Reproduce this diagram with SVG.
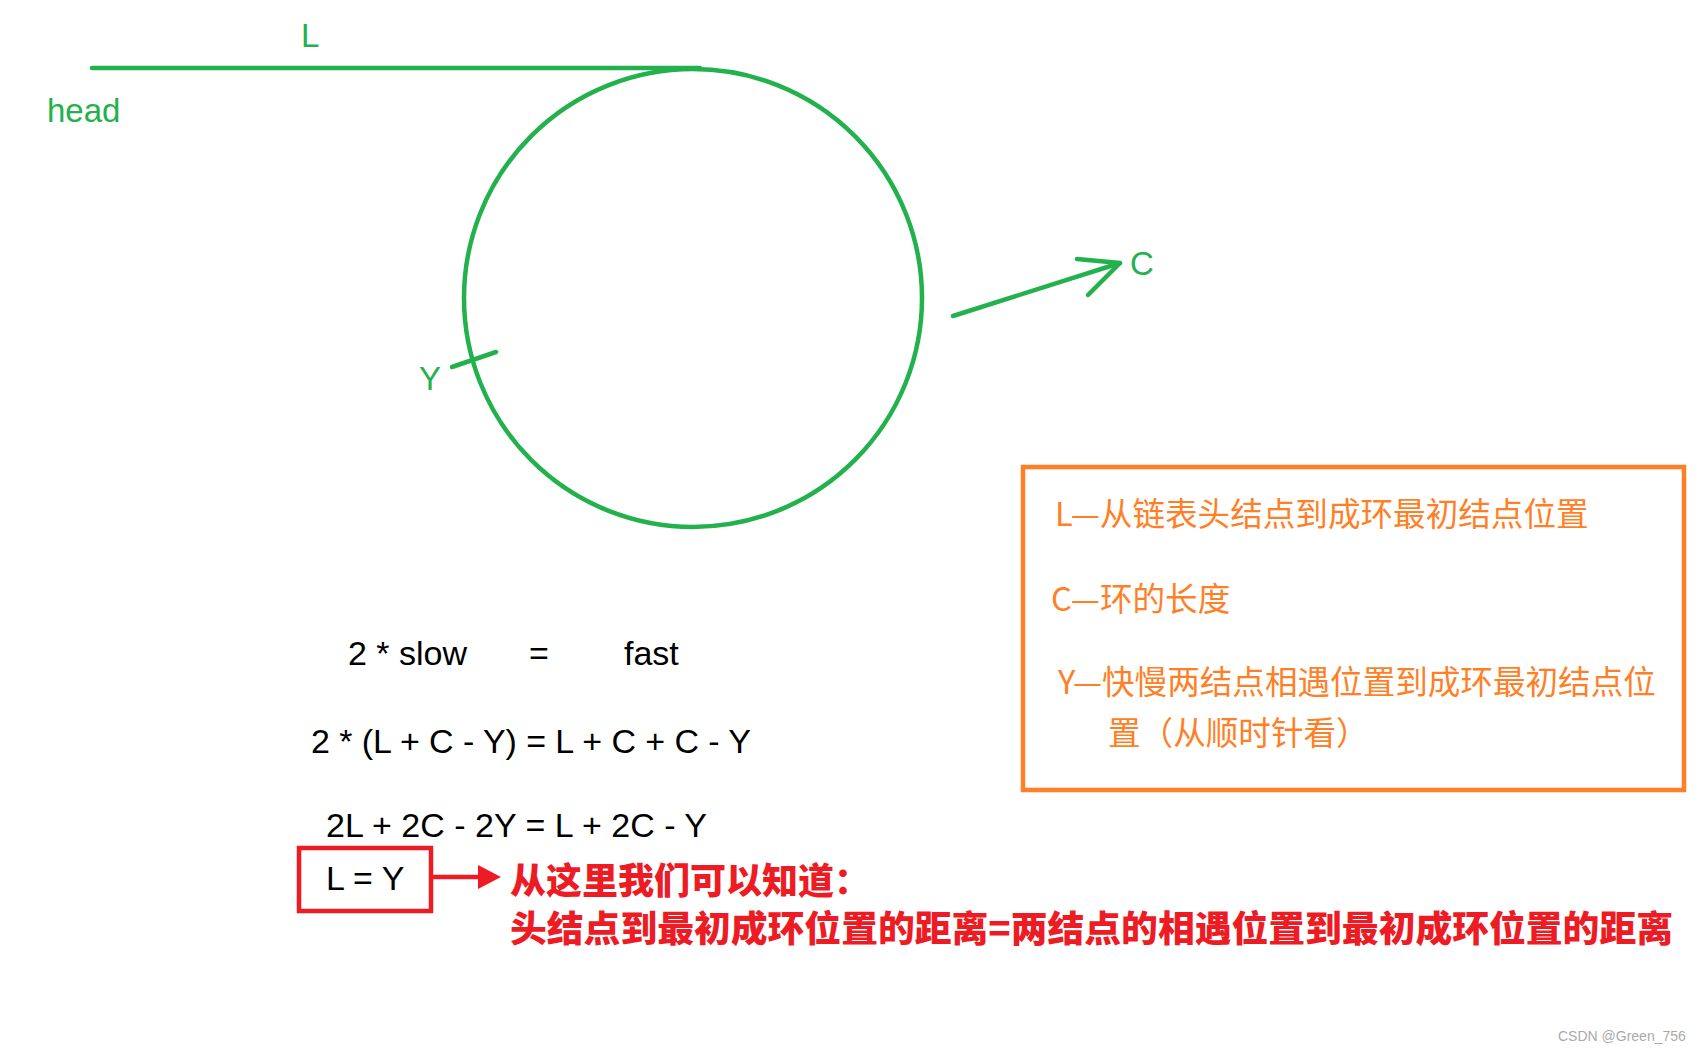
<svg xmlns="http://www.w3.org/2000/svg" width="1703" height="1053" viewBox="0 0 1703 1053">
<style>
.g{fill:none;stroke:#22b14c;stroke-width:4.5;stroke-linecap:round;stroke-linejoin:round}
.gt{fill:#22b14c;font-family:"Liberation Sans",Arial,sans-serif;font-size:33px}
.eq{fill:#000;font-family:"Liberation Sans",Arial,sans-serif;font-size:34px}
.ot{fill:#ff7f27;font-family:"Noto Sans CJK SC","Noto Sans",sans-serif;font-size:32.6px}
.rt{fill:#ed1c24;font-family:"Noto Sans CJK SC","Noto Sans",sans-serif;font-size:36px;font-weight:900}
</style>
<rect width="1703" height="1053" fill="#fff"/>
<g id="loop"><circle class="g" cx="693" cy="298" r="229"/></g>
<g id="label-L"><text class="gt" x="301" y="47">L</text></g>
<g id="label-head"><text class="gt" x="47" y="122">head</text></g>
<g id="label-Y"><text class="gt" x="419" y="390">Y</text></g>
<g id="label-C"><text class="gt" x="1130" y="275">C</text></g>
<g id="connectors">
<line class="g" x1="92" y1="68" x2="700" y2="68"/>
<line class="g" x1="452" y1="367" x2="496" y2="352"/>
<line class="g" x1="953" y1="316" x2="1120" y2="263"/>
<polyline class="g" points="1077,259 1120,263 1088,295"/>
<line x1="433" y1="877" x2="482" y2="877" stroke="#ed1c24" stroke-width="4.5"/>
<polygon points="478,865 501,877 478,889" fill="#ed1c24"/>
</g>
<g id="legend">
<rect x="1023" y="467" width="661" height="323" fill="none" stroke="#ff7f27" stroke-width="4.5"/>
<text class="ot" x="1055" y="526">L—从链表头结点到成环最初结点位置</text>
<text class="ot" x="1051" y="611">C—环的长度</text>
<text class="ot" x="1058" y="694">Y—快慢两结点相遇位置到成环最初结点位</text>
<text class="ot" x="1108" y="745">置（从顺时针看）</text>
</g>
<g id="equations">
<text class="eq" x="348" y="665">2 * slow</text>
<text class="eq" x="529" y="665">=</text>
<text class="eq" x="624" y="665">fast</text>
<text class="eq" x="311" y="753" textLength="440" lengthAdjust="spacing">2 * (L + C - Y) = L + C + C - Y</text>
<text class="eq" x="326" y="837" textLength="381" lengthAdjust="spacing">2L + 2C - 2Y = L + 2C - Y</text>
</g>
<g id="result-box">
<rect x="299" y="848" width="132" height="63" fill="none" stroke="#ed1c24" stroke-width="4.5"/>
<text class="eq" x="326" y="890">L = Y</text>
</g>
<g id="conclusion">
<text class="rt" x="510" y="894">从这里我们可以知道：</text>
<text class="rt" x="510" y="942" textLength="1163" lengthAdjust="spacingAndGlyphs">头结点到最初成环位置的距离=两结点的相遇位置到最初成环位置的距离</text>
</g>
<g id="watermark"><text x="1558" y="1041" fill="#aaa" font-family="'Liberation Sans',Arial,sans-serif" font-size="14">CSDN @Green_756</text></g>
</svg>
